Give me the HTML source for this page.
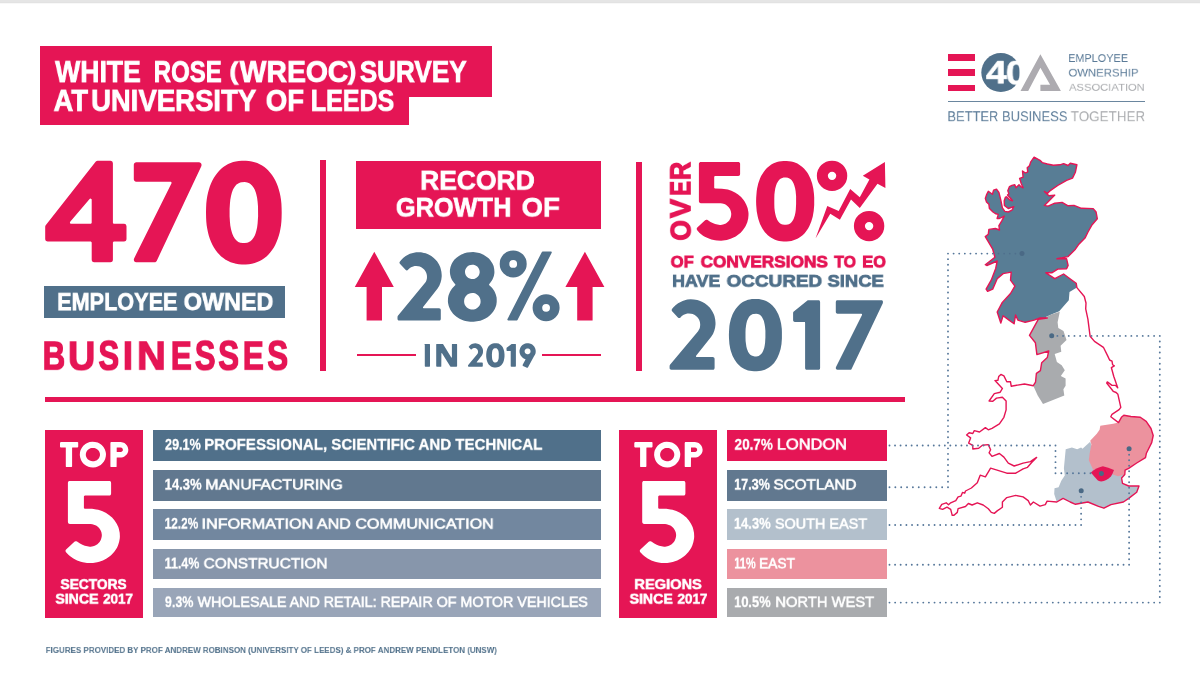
<!DOCTYPE html>
<html><head><meta charset="utf-8"><title>White Rose Survey</title>
<style>
html,body{margin:0;padding:0;background:#fff}
body{width:1200px;height:677px;position:relative;overflow:hidden;font-family:"Liberation Sans",sans-serif}
.r{position:absolute}
.t{position:absolute;left:0;top:0;will-change:transform;white-space:nowrap;line-height:1;transform-origin:0 0;font-family:"Liberation Sans",sans-serif;font-weight:700}
.t b{font-weight:700}
.t span{font-weight:400}
</style></head><body>
<svg width="1200" height="677" viewBox="0 0 1200 677" style="position:absolute;left:0;top:0">
<polygon points="374.3,251.7 393.8,287 382.0,287 382.0,320.5 366.6,320.5 366.6,287 354.8,287" fill="#e51555"/>
<polygon points="584.9,251.7 604.4,287 592.6,287 592.6,320.5 577.2,320.5 577.2,287 565.4,287" fill="#e51555"/>
<circle cx="832.05" cy="175.85" r="9.7" fill="none" stroke="#e51555" stroke-width="11"/>
<circle cx="869.10" cy="226.10" r="9.7" fill="none" stroke="#e51555" stroke-width="11"/>
<polygon fill="#e51555" points="815.5,238.6 827.3,206.1 838.7,210.9 850.2,189.1 859.8,197.3 869.4,179.5 862.8,175.8 884.9,162.1 885.4,188.1 877.5,183.7 859.8,207.9 851.0,199.5 839.9,219.7 830.3,213.8"/>
<circle cx="513.20" cy="263.90" r="8.7" fill="none" stroke="#50708a" stroke-width="9.6"/>
<circle cx="546.10" cy="307.80" r="8.7" fill="none" stroke="#50708a" stroke-width="9.6"/>
<polygon fill="#50708a" stroke="#50708a" stroke-width="1.6" stroke-linejoin="round" points="542.6,252.3 551.0,252.3 516.8,319.6 508.1,319.6"/>
<circle cx="1000.8" cy="72.6" r="19.5" fill="#50708a"/>
<polygon fill="#587d95" points="1034.1,157.1 1040.0,160.3 1042.2,162.6 1047.4,164.0 1053.3,165.2 1059.9,164.8 1063.6,163.6 1068.1,165.5 1070.3,163.3 1076.9,164.8 1075.4,172.2 1072.5,178.1 1066.6,180.3 1057.7,185.5 1050.3,190.6 1047.4,193.6 1044.4,191.4 1048.9,195.8 1054.8,195.1 1048.9,201.0 1044.4,205.4 1048.1,206.1 1054.8,203.2 1062.1,202.4 1068.1,205.8 1074.0,205.4 1081.4,208.3 1093.2,208.6 1096.1,212.0 1097.3,218.7 1091.7,225.3 1088.0,232.0 1085.0,238.1 1078.4,244.8 1075.4,249.2 1068.1,256.6 1057.0,258.8 1066.6,258.8 1068.1,265.4 1066.6,268.7 1057.7,269.1 1051.8,272.8 1045.9,272.8 1054.8,278.7 1063.6,274.0 1071.0,279.5 1076.2,283.2 1076.9,287.6 1069.5,292.0 1068.8,300.2 1059.2,311.2 1051.8,314.2 1045.9,317.1 1047.3,318.0 1040,317.9 1034.1,320.1 1025.2,322.3 1017.8,320.1 1015.6,314.9 1014.1,323.8 1009,320.1 1003.1,315.7 1000.8,323.1 997.2,312.0 1002.3,302.4 1010.5,293.5 1014.9,286.1 1010.5,280.2 1011.2,272.1 1003.1,273.6 997.2,278.7 992.7,289.1 987.6,291.3 986.1,289.1 991.2,280.2 995.7,268.4 997.2,261.0 986.8,265.5 985.3,264.7 994.9,257.3 992.7,249.2 985.3,236.6 988.3,234.2 988.9,229.4 995.4,228.5 999.5,230 998.9,225.6 1001.8,220.9 1004.2,216.1 999.5,218.5 997.1,218.5 998.3,214.4 995.9,213.8 993.0,212.0 989.4,208.5 988.9,204.3 986.5,202.0 985.3,198.4 986.5,194.9 988.3,191.3 992.4,194.3 993.6,190.2 996.5,189.2 998.9,192.5 1000.7,199.6 1002.4,207.9 1004.8,211.4 1008.3,212.0 1011.9,210.2 1013.7,206.7 1008.3,208.5 1004.4,205.5 1004.2,200.8 1005.4,197.2 1006.5,196.8 1009.5,199.8 1012.5,200.8 1010.5,198.2 1007.5,195 1008.9,193.7 1007.8,190.7 1009.5,186.6 1011.9,185.4 1014.8,184.8 1016.0,187.8 1019.0,184.8 1020.7,186.6 1023.1,187.8 1021.3,183.7 1019.6,178.3 1023.1,177.2 1022.5,171.0 1025.5,173 1027.8,171.8 1027.2,167.7 1029.4,165.9 1030.8,161.8"/>
<polygon fill="#a9abae" points="1059.8,311.8 1057.6,322.2 1058.3,328.1 1063.5,331.0 1066.5,339.9 1060.6,345.8 1061.3,351.7 1054.7,353.9 1056.9,362.0 1061.7,365.3 1064.8,370.2 1060.8,376.0 1065.6,378.6 1065.6,385.7 1063.4,389.2 1064.3,395.5 1043.0,403.9 1037.7,395.5 1033.3,385.7 1035.5,382.2 1036.4,373.3 1040.4,370.6 1041.7,362.7 1047.3,357.6 1048.7,351.0 1036.9,354.6 1035.4,342.8 1029.5,335.4 1038.4,319.2 1047.3,318.0 1045.9,317.1 1051.8,314.2"/>
<polygon fill="#b3c0cc" points="1054.2,494.0 1054.5,488.2 1058.6,487.3 1061.3,480.7 1064.8,475.4 1063.9,468.3 1065.7,449.3 1071.9,447.5 1077.2,449.3 1081.1,447.5 1082.5,448.8 1090.2,441.7 1095,455 1110,465 1124.8,474.5 1121.6,478.0 1122.5,483.4 1128.7,486.0 1139.0,486.0 1136.7,492.2 1128.7,498.4 1123.4,502.0 1110.9,504.6 1103.9,508.2 1098.5,506.4 1087.9,502.0 1075.5,504.3 1070.2,502.0 1063.1,498.4 1056.8,502.0"/>
<polygon fill="#ec929e" points="1121.4,417.3 1123.8,415.3 1130.9,416.5 1140.3,417.3 1146.2,421.4 1151.0,428.5 1153.2,435.5 1151.7,442.6 1146.4,453.2 1145.5,457.6 1136.7,463.0 1128.7,468.3 1125.1,470.1 1124.8,474.5 1118.0,476.3 1112.7,474.5 1113.6,470.1 1107.4,469.2 1102.1,467.0 1093.2,470.1 1088.8,460.3 1089.7,453.2 1091.4,444.3 1090.2,440.8 1096.8,433.7 1099.6,429.7 1100.3,425.7 1113.2,423.8 1118.5,422.6"/>
<path fill="#e51555" d="M1090.9,472.6 Q1096,467.5 1102.9,466.2 Q1108,467.5 1114,470 Q1112.5,474.5 1110.9,476.6 Q1106.5,481 1101.1,481.6 Q1098.5,481 1097.6,480.2 Q1094,476.5 1090.9,472.6 Z"/>
<polygon fill="none" stroke="#e51555" stroke-width="1.4" stroke-linejoin="round" points="1034.1,157.1 1040.0,160.3 1042.2,162.6 1047.4,164.0 1053.3,165.2 1059.9,164.8 1063.6,163.6 1068.1,165.5 1070.3,163.3 1076.9,164.8 1075.4,172.2 1072.5,178.1 1066.6,180.3 1057.7,185.5 1050.3,190.6 1047.4,193.6 1044.4,191.4 1048.9,195.8 1054.8,195.1 1048.9,201.0 1044.4,205.4 1048.1,206.1 1054.8,203.2 1062.1,202.4 1068.1,205.8 1074.0,205.4 1081.4,208.3 1093.2,208.6 1096.1,212.0 1097.3,218.7 1091.7,225.3 1088.0,232.0 1085.0,238.1 1078.4,244.8 1075.4,249.2 1068.1,256.6 1057.0,258.8 1066.6,258.8 1068.1,265.4 1066.6,268.7 1057.7,269.1 1051.8,272.8 1045.9,272.8 1054.8,278.7 1063.6,274.0 1071.0,279.5 1076.2,283.2 1076.9,287.6 1084.3,296.5 1086.0,303 1085.7,308.9 1087.9,319.2 1090.1,336.2 1094.5,341.4 1103.4,347.3 1107.8,356.1 1109.6,360 1112,361.2 1112.6,364.7 1114.3,365.9 1111.4,367.7 1113.8,376.5 1117.7,387.8 1115.5,385.4 1112.0,385.4 1107.3,381.9 1106.7,383.0 1113.2,391.3 1116.1,392.5 1117.9,394.3 1120.8,407.3 1119.1,409.6 1112.0,414.3 1110.8,416.7 1118.5,422.6 1121.4,417.3 1123.8,415.3 1130.9,416.5 1140.3,417.3 1146.2,421.4 1151.0,428.5 1153.2,435.5 1151.7,442.6 1146.4,453.2 1145.5,457.6 1136.7,463.0 1128.7,468.3 1125.1,470.1 1124.8,474.5 1121.6,478.0 1122.5,483.4 1128.7,486.0 1139.0,486.0 1136.7,492.2 1128.7,498.4 1123.4,502.0 1110.9,504.6 1103.9,508.2 1098.5,506.4 1087.9,502.0 1075.5,504.3 1070.2,502.0 1063.1,498.4 1056.8,502.0 1047.1,501.1 1045.3,504.6 1040,506.1 1033.4,502.0 1030.4,505.0 1028.2,500.6 1023.1,496.9 1015.7,495.4 1006.8,497.6 1002.4,502.0 1002.4,507.2 997.2,510.9 994.3,513.4 991.3,512.4 988.3,508.7 983.2,505.0 977.3,502.8 972.1,505.0 968.4,503.5 965.5,506.5 958.1,508.7 957.3,512.4 954,515.3 952.2,515.3 950.7,509.4 947.0,507.2 942.6,509.4 939.3,508.4 941.8,504.3 946.2,502.8 948.5,504.7 950.7,502.8 955.8,500.6 958.1,496.9 961.0,496.1 962.5,492.4 964.7,493.2 965.5,491.0 971.4,488.0 977.3,482.8 980.2,475.2 985.4,476.9 990.6,468.1 997.9,470.3 1006.8,473.2 1015.7,473.2 1023.1,468.8 1027.5,467.3 1031.9,462.2 1036.6,457.4 1030.4,461.6 1023.1,463.1 1014.2,466.0 1008.3,463.1 1003.9,457.1 999.4,453.5 992.0,456.4 989.1,452.7 990.6,449.8 988.3,444.6 982.4,445.3 978.7,448.3 972.8,449.0 972.8,445.3 968.7,443.1 970.6,437.9 966.6,435.0 969.1,432.8 972.8,433.5 974.3,430.6 979.5,432.0 985.4,427.6 988.3,429.8 992.0,428.3 999.4,423.9 1003.9,417.3 1006.1,409.9 1006.1,401.0 1002.4,397.3 996.5,398.1 992.8,401.3 989.1,401.0 994.3,393.6 1000.2,392.2 1002.4,388.5 995.0,380.6 997.9,380.3 998.7,376.6 1000.9,374.4 1003.9,375.9 1006.8,381.8 1010.5,381.8 1011.2,386.2 1024.5,384.0 1033.3,385.7 1035.5,382.2 1036.4,373.3 1040.4,370.6 1041.7,362.7 1047.3,357.6 1048.7,351.0 1036.9,354.6 1035.4,342.8 1029.5,335.4 1038.4,319.2 1047.3,318.0 1040,317.9 1034.1,320.1 1025.2,322.3 1017.8,320.1 1015.6,314.9 1014.1,323.8 1009,320.1 1003.1,315.7 1000.8,323.1 997.2,312.0 1002.3,302.4 1010.5,293.5 1014.9,286.1 1010.5,280.2 1011.2,272.1 1003.1,273.6 997.2,278.7 992.7,289.1 987.6,291.3 986.1,289.1 991.2,280.2 995.7,268.4 997.2,261.0 986.8,265.5 985.3,264.7 994.9,257.3 992.7,249.2 985.3,236.6 988.3,234.2 988.9,229.4 995.4,228.5 999.5,230 998.9,225.6 1001.8,220.9 1004.2,216.1 999.5,218.5 997.1,218.5 998.3,214.4 995.9,213.8 993.0,212.0 989.4,208.5 988.9,204.3 986.5,202.0 985.3,198.4 986.5,194.9 988.3,191.3 992.4,194.3 993.6,190.2 996.5,189.2 998.9,192.5 1000.7,199.6 1002.4,207.9 1004.8,211.4 1008.3,212.0 1011.9,210.2 1013.7,206.7 1008.3,208.5 1004.4,205.5 1004.2,200.8 1005.4,197.2 1006.5,196.8 1009.5,199.8 1012.5,200.8 1010.5,198.2 1007.5,195 1008.9,193.7 1007.8,190.7 1009.5,186.6 1011.9,185.4 1014.8,184.8 1016.0,187.8 1019.0,184.8 1020.7,186.6 1023.1,187.8 1021.3,183.7 1019.6,178.3 1023.1,177.2 1022.5,171.0 1025.5,173 1027.8,171.8 1027.2,167.7 1029.4,165.9 1030.8,161.8"/>
<path fill="none" stroke="#56779a" stroke-width="1.9" stroke-linecap="round" stroke-dasharray="0 5.5333" d="M889.50,445.45 L1055.55,445.45"/>
<path fill="none" stroke="#56779a" stroke-width="1.9" stroke-linecap="round" stroke-dasharray="0 5.5700" d="M1055.50,451.02 L1055.50,473.35"/>
<path fill="none" stroke="#56779a" stroke-width="1.9" stroke-linecap="round" stroke-dasharray="0 5.8333" d="M1061.33,473.30 L1090.55,473.30"/>
<path fill="none" stroke="#56779a" stroke-width="1.9" stroke-linecap="round" stroke-dasharray="0 5.8500" d="M889.50,487.30 L948.05,487.30"/>
<path fill="none" stroke="#56779a" stroke-width="1.9" stroke-linecap="round" stroke-dasharray="0 5.5643" d="M948.00,481.74 L948.00,253.55"/>
<path fill="none" stroke="#56779a" stroke-width="1.9" stroke-linecap="round" stroke-dasharray="0 5.6125" d="M953.61,253.60 L992.95,253.60"/>
<path fill="none" stroke="#4f6f8c" stroke-width="1.7" stroke-linecap="round" stroke-dasharray="0 5.6200" d="M998.52,253.60 L1021.05,253.60"/>
<path fill="none" stroke="#56779a" stroke-width="1.9" stroke-linecap="round" stroke-dasharray="0 5.6353" d="M889.50,525.00 L1081.15,525.00"/>
<path fill="none" stroke="#56779a" stroke-width="1.9" stroke-linecap="round" stroke-dasharray="0 5.6333" d="M1081.10,519.37 L1081.10,491.15"/>
<path fill="none" stroke="#56779a" stroke-width="1.9" stroke-linecap="round" stroke-dasharray="0 5.5721" d="M889.50,564.70 L1129.15,564.70"/>
<path fill="none" stroke="#56779a" stroke-width="1.9" stroke-linecap="round" stroke-dasharray="0 5.5000" d="M1129.10,559.20 L1129.10,449.15"/>
<path fill="none" stroke="#56779a" stroke-width="1.9" stroke-linecap="round" stroke-dasharray="0 5.6312" d="M889.50,602.60 L1159.85,602.60"/>
<path fill="none" stroke="#56779a" stroke-width="1.9" stroke-linecap="round" stroke-dasharray="0 5.5563" d="M1159.80,597.04 L1159.80,335.85"/>
<path fill="none" stroke="#56779a" stroke-width="1.9" stroke-linecap="round" stroke-dasharray="0 5.6895" d="M1154.11,335.90 L1051.65,335.90"/>
<circle cx="1022.0" cy="253.6" r="2.5" fill="#4a6985"/>
<circle cx="1051.7" cy="335.8" r="2.5" fill="#4a6985"/>
<circle cx="1129.1" cy="448.8" r="2.5" fill="#4a6985"/>
<circle cx="1101.4" cy="473.5" r="2.5" fill="#4a6985"/>
<circle cx="1081.2" cy="490.8" r="2.5" fill="#4a6985"/>
</svg>
<div class="r" style="left:0.00px;top:0.00px;width:1200.00px;height:3.00px;background:#e5e5e5"></div>
<div class="r" style="left:0.00px;top:2.00px;width:1200.00px;height:1.00px;background:#e2e2e2"></div>
<div class="r" style="left:0.00px;top:3.00px;width:1200.00px;height:1.00px;background:#f8f8f8"></div>
<div class="r" style="left:40.00px;top:46.00px;width:452.00px;height:50.50px;background:#e51555"></div>
<div class="r" style="left:40.00px;top:96.00px;width:369.00px;height:28.50px;background:#e51555"></div>
<div class="r" style="left:44.00px;top:286.00px;width:241.00px;height:32.00px;background:#50708a"></div>
<div class="r" style="left:320.00px;top:160.00px;width:6.00px;height:211.00px;background:#e51555"></div>
<div class="r" style="left:636.00px;top:162.00px;width:6.00px;height:209.00px;background:#e51555"></div>
<div class="r" style="left:45.00px;top:397.00px;width:860.00px;height:5.00px;background:#e51555"></div>
<div class="r" style="left:356.00px;top:161.00px;width:245.00px;height:68.00px;background:#e51555"></div>
<div class="r" style="left:356.90px;top:353.50px;width:59.10px;height:2.00px;background:#e51555"></div>
<div class="r" style="left:542.00px;top:353.50px;width:59.00px;height:2.00px;background:#e51555"></div>
<div class="r" style="left:45.00px;top:430.00px;width:98.00px;height:187.50px;background:#e51555"></div>
<div class="r" style="left:619.30px;top:430.00px;width:98.00px;height:187.50px;background:#e51555"></div>
<div class="r" style="left:153.00px;top:430.20px;width:448.00px;height:30.50px;background:#50708a"></div>
<div class="r" style="left:153.00px;top:470.00px;width:448.00px;height:30.60px;background:#61788f"></div>
<div class="r" style="left:153.00px;top:509.20px;width:448.00px;height:30.40px;background:#72879f"></div>
<div class="r" style="left:153.00px;top:549.10px;width:448.00px;height:30.20px;background:#8796ab"></div>
<div class="r" style="left:153.00px;top:588.20px;width:448.00px;height:29.30px;background:#99a5b8"></div>
<div class="r" style="left:726.80px;top:430.20px;width:160.40px;height:30.50px;background:#e51555"></div>
<div class="r" style="left:726.80px;top:470.00px;width:160.40px;height:30.60px;background:#61788f"></div>
<div class="r" style="left:726.80px;top:509.20px;width:160.40px;height:30.40px;background:#b3c0cc"></div>
<div class="r" style="left:726.80px;top:549.10px;width:160.40px;height:30.20px;background:#ec929e"></div>
<div class="r" style="left:726.80px;top:588.20px;width:160.40px;height:29.30px;background:#a9abae"></div>
<div class="r" style="left:948.00px;top:54.00px;width:27.00px;height:6.50px;background:#e51555"></div>
<div class="r" style="left:948.00px;top:69.20px;width:27.00px;height:6.50px;background:#e51555"></div>
<div class="r" style="left:948.00px;top:84.80px;width:27.00px;height:6.50px;background:#e51555"></div>
<div class="r" style="left:948.00px;top:100.80px;width:196.50px;height:1.10px;background:#6a869f"></div>
<div class="t" style="font-size:38.36px;color:#fff;transform:translate(55.23px,57.35px) scale(0.6921,0.7692);-webkit-text-stroke:1.04px #fff;"><b>WHITE</b></div>
<div class="t" style="font-size:38.36px;color:#fff;transform:translate(153.62px,57.35px) scale(0.6269,0.7692);-webkit-text-stroke:1.04px #fff;"><b>ROSE</b></div>
<div class="t" style="font-size:31.70px;color:#fff;transform:translate(229.49px,59.11px) scale(0.8359,0.7692);-webkit-text-stroke:1.04px #fff;"><b>(</b></div>
<div class="t" style="font-size:38.36px;color:#fff;transform:translate(239.65px,57.35px) scale(0.7395,0.7692);-webkit-text-stroke:1.04px #fff;"><b>WREOC</b></div>
<div class="t" style="font-size:31.70px;color:#fff;transform:translate(347.78px,59.11px) scale(0.8027,0.7692);-webkit-text-stroke:1.04px #fff;"><b>)</b></div>
<div class="t" style="font-size:38.36px;color:#fff;transform:translate(359.79px,57.35px) scale(0.6801,0.7692);-webkit-text-stroke:1.04px #fff;"><b>SURVEY</b></div>
<div class="t" style="font-size:38.17px;color:#fff;transform:translate(53.57px,86.17px) scale(0.7139,0.7692);-webkit-text-stroke:1.04px #fff;"><b>AT</b></div>
<div class="t" style="font-size:38.17px;color:#fff;transform:translate(91.02px,86.17px) scale(0.7217,0.7692);-webkit-text-stroke:1.04px #fff;"><b>UNIVERSITY</b></div>
<div class="t" style="font-size:38.17px;color:#fff;transform:translate(265.81px,86.17px) scale(0.7211,0.7692);-webkit-text-stroke:1.04px #fff;"><b>OF</b></div>
<div class="t" style="font-size:38.17px;color:#fff;transform:translate(310.87px,86.17px) scale(0.6553,0.7692);-webkit-text-stroke:1.04px #fff;"><b>LEEDS</b></div>
<div class="t" style="font-size:31.37px;color:#fff;transform:translate(57.11px,290.10px) scale(0.6908,0.7692);-webkit-text-stroke:0.91px #fff;"><b>EMPLOYEE</b></div>
<div class="t" style="font-size:31.37px;color:#fff;transform:translate(183.69px,290.10px) scale(0.7463,0.7692);-webkit-text-stroke:0.91px #fff;"><b>OWNED</b></div>
<div class="t" style="font-size:52.00px;color:#e51555;transform:translate(42.57px,335.59px) scale(0.6038,0.7692);-webkit-text-stroke:1.69px #e51555;"><b>B</b></div>
<div class="t" style="font-size:52.37px;color:#e51555;transform:translate(68.10px,335.75px) scale(0.7203,0.7692);-webkit-text-stroke:1.69px #e51555;"><b>U</b></div>
<div class="t" style="font-size:52.73px;color:#e51555;transform:translate(98.48px,335.75px) scale(0.5866,0.7692);-webkit-text-stroke:1.69px #e51555;"><b>S</b></div>
<div class="t" style="font-size:52.00px;color:#e51555;transform:translate(122.83px,335.59px) scale(0.7053,0.7692);-webkit-text-stroke:1.69px #e51555;"><b>I</b></div>
<div class="t" style="font-size:52.00px;color:#e51555;transform:translate(137.07px,335.59px) scale(0.7622,0.7692);-webkit-text-stroke:1.69px #e51555;"><b>N</b></div>
<div class="t" style="font-size:52.00px;color:#e51555;transform:translate(170.72px,335.59px) scale(0.6064,0.7692);-webkit-text-stroke:1.69px #e51555;"><b>E</b></div>
<div class="t" style="font-size:52.73px;color:#e51555;transform:translate(194.83px,335.75px) scale(0.5853,0.7692);-webkit-text-stroke:1.69px #e51555;"><b>S</b></div>
<div class="t" style="font-size:52.73px;color:#e51555;transform:translate(218.16px,335.75px) scale(0.5934,0.7692);-webkit-text-stroke:1.69px #e51555;"><b>S</b></div>
<div class="t" style="font-size:52.00px;color:#e51555;transform:translate(242.72px,335.59px) scale(0.6064,0.7692);-webkit-text-stroke:1.69px #e51555;"><b>E</b></div>
<div class="t" style="font-size:52.73px;color:#e51555;transform:translate(267.19px,335.75px) scale(0.5950,0.7692);-webkit-text-stroke:1.69px #e51555;"><b>S</b></div>
<div class="t" style="font-size:34.20px;color:#fff;transform:translate(420.03px,167.21px) scale(0.7743,0.7692);-webkit-text-stroke:0.78px #fff;"><b>RECORD</b></div>
<div class="t" style="font-size:34.96px;color:#fff;transform:translate(395.86px,194.15px) scale(0.7254,0.7692);-webkit-text-stroke:0.78px #fff;"><b>GROWTH</b></div>
<div class="t" style="font-size:34.96px;color:#fff;transform:translate(521.64px,194.15px) scale(0.7865,0.7692);-webkit-text-stroke:0.78px #fff;"><b>OF</b></div>
<div class="t" style="font-size:21.54px;color:#e51555;transform:translate(670.63px,254.33px) scale(0.7725,0.7692);-webkit-text-stroke:1.04px #e51555;"><b>OF</b></div>
<div class="t" style="font-size:21.54px;color:#e51555;transform:translate(700.61px,254.33px) scale(0.7995,0.7692);-webkit-text-stroke:1.04px #e51555;"><b>CONVERSIONS</b></div>
<div class="t" style="font-size:21.54px;color:#e51555;transform:translate(834.21px,254.33px) scale(0.7347,0.7692);-webkit-text-stroke:1.04px #e51555;"><b>TO</b></div>
<div class="t" style="font-size:21.54px;color:#e51555;transform:translate(862.23px,254.33px) scale(0.7658,0.7692);-webkit-text-stroke:1.04px #e51555;"><b>EO</b></div>
<div class="t" style="font-size:22.30px;color:#50708a;transform:translate(672.18px,272.80px) scale(0.7965,0.7692);-webkit-text-stroke:1.04px #50708a;"><b>HAVE</b></div>
<div class="t" style="font-size:22.30px;color:#50708a;transform:translate(726.55px,272.80px) scale(0.8479,0.7692);-webkit-text-stroke:1.04px #50708a;"><b>OCCURED</b></div>
<div class="t" style="font-size:22.30px;color:#50708a;transform:translate(827.53px,272.80px) scale(0.8257,0.7692);-webkit-text-stroke:1.04px #50708a;"><b>SINCE</b></div>
<div class="t" style="font-size:18.23px;color:#fff;transform:translate(60.44px,577.61px) scale(0.7550,0.7692);-webkit-text-stroke:0.72px #fff;"><b>SECTORS</b></div>
<div class="t" style="font-size:18.61px;color:#fff;transform:translate(55.40px,592.14px) scale(0.7566,0.7692);-webkit-text-stroke:0.72px #fff;"><b>SINCE</b></div>
<div class="t" style="font-size:18.61px;color:#fff;transform:translate(103.20px,592.14px) scale(0.7190,0.7692);-webkit-text-stroke:0.72px #fff;"><b>2017</b></div>
<div class="t" style="font-size:18.23px;color:#fff;transform:translate(634.30px,577.61px) scale(0.8041,0.7692);-webkit-text-stroke:0.72px #fff;"><b>REGIONS</b></div>
<div class="t" style="font-size:18.61px;color:#fff;transform:translate(629.58px,592.14px) scale(0.7602,0.7692);-webkit-text-stroke:0.72px #fff;"><b>SINCE</b></div>
<div class="t" style="font-size:18.61px;color:#fff;transform:translate(677.47px,592.14px) scale(0.7224,0.7692);-webkit-text-stroke:0.72px #fff;"><b>2017</b></div>
<div class="t" style="font-size:20.03px;color:#fff;transform:translate(164.98px,436.58px) scale(0.6310,0.7692);-webkit-text-stroke:0.39px #fff;"><b>29.1%</b></div>
<div class="t" style="font-size:20.03px;color:#fff;transform:translate(204.11px,436.58px) scale(0.7521,0.7692);-webkit-text-stroke:0.39px #fff;"><b>PROFESSIONAL, SCIENTIFIC AND TECHNICAL</b></div>
<div class="t" style="font-size:19.65px;color:#fff;transform:translate(164.60px,477.27px) scale(0.6658,0.7692);-webkit-text-stroke:0.39px #fff;"><b>14.3%</b></div>
<div class="t" style="font-size:19.08px;color:#fff;transform:translate(205.27px,477.09px) scale(0.8268,0.7692);-webkit-text-stroke:0.78px #fff;"><span>MANUFACTURING</span></div>
<div class="t" style="font-size:19.46px;color:#fff;transform:translate(164.65px,516.31px) scale(0.6101,0.7692);-webkit-text-stroke:0.39px #fff;"><b>12.2%</b></div>
<div class="t" style="font-size:18.90px;color:#fff;transform:translate(201.58px,517.04px) scale(0.8531,0.7692);-webkit-text-stroke:0.78px #fff;"><span>INFORMATION AND COMMUNICATION</span></div>
<div class="t" style="font-size:19.84px;color:#fff;transform:translate(164.62px,556.13px) scale(0.6295,0.7692);-webkit-text-stroke:0.39px #fff;"><b>11.4%</b></div>
<div class="t" style="font-size:19.27px;color:#fff;transform:translate(203.56px,555.96px) scale(0.7990,0.7692);-webkit-text-stroke:0.78px #fff;"><span>CONSTRUCTION</span></div>
<div class="t" style="font-size:19.65px;color:#fff;transform:translate(164.91px,594.84px) scale(0.6347,0.7692);-webkit-text-stroke:0.39px #fff;"><b>9.3%</b></div>
<div class="t" style="font-size:19.08px;color:#fff;transform:translate(197.56px,594.47px) scale(0.7484,0.7692);-webkit-text-stroke:0.78px #fff;"><span>WHOLESALE AND RETAIL: REPAIR OF MOTOR VEHICLES</span></div>
<div class="t" style="font-size:20.03px;color:#fff;transform:translate(734.57px,436.58px) scale(0.6738,0.7692);-webkit-text-stroke:0.39px #fff;"><b>20.7%</b></div>
<div class="t" style="font-size:19.46px;color:#fff;transform:translate(776.84px,437.10px) scale(0.8440,0.7692);-webkit-text-stroke:0.78px #fff;"><span>LONDON</span></div>
<div class="t" style="font-size:19.65px;color:#fff;transform:translate(734.04px,477.27px) scale(0.6447,0.7692);-webkit-text-stroke:0.39px #fff;"><b>17.3%</b></div>
<div class="t" style="font-size:19.08px;color:#fff;transform:translate(773.41px,477.09px) scale(0.8003,0.7692);-webkit-text-stroke:0.78px #fff;"><span>SCOTLAND</span></div>
<div class="t" style="font-size:19.46px;color:#fff;transform:translate(733.86px,516.31px) scale(0.6692,0.7692);-webkit-text-stroke:0.39px #fff;"><b>14.3%</b></div>
<div class="t" style="font-size:18.90px;color:#fff;transform:translate(774.88px,517.05px) scale(0.7643,0.7692);-webkit-text-stroke:0.78px #fff;"><span>SOUTH EAST</span></div>
<div class="t" style="font-size:19.84px;color:#fff;transform:translate(734.13px,556.13px) scale(0.5599,0.7692);-webkit-text-stroke:0.39px #fff;"><b>11%</b></div>
<div class="t" style="font-size:19.27px;color:#fff;transform:translate(759.05px,555.96px) scale(0.7129,0.7692);-webkit-text-stroke:0.78px #fff;"><span>EAST</span></div>
<div class="t" style="font-size:19.65px;color:#fff;transform:translate(733.99px,594.83px) scale(0.6595,0.7692);-webkit-text-stroke:0.39px #fff;"><b>10.5%</b></div>
<div class="t" style="font-size:19.08px;color:#fff;transform:translate(775.36px,594.47px) scale(0.7724,0.7692);-webkit-text-stroke:0.78px #fff;"><span>NORTH WEST</span></div>
<div class="t" style="font-size:10.39px;color:#50708a;transform:translate(45.73px,646.84px) scale(0.7700,0.7692);"><b>FIGURES PROVIDED BY PROF ANDREW ROBINSON (UNIVERSITY OF LEEDS) &amp; PROF ANDREW PENDLETON (UNSW)</b></div>
<div class="t" style="font-size:14.36px;color:#5b7b98;transform:translate(1068.13px,52.65px) scale(0.7585,0.7692);"><span>EMPLOYEE</span></div>
<div class="t" style="font-size:14.17px;color:#5b7b98;transform:translate(1068.49px,67.25px) scale(0.8021,0.7692);"><span>OWNERSHIP</span></div>
<div class="t" style="font-size:13.60px;color:#a9abae;transform:translate(1069.00px,82.25px) scale(0.8247,0.7692);"><span>ASSOCIATION</span></div>
<div class="t" style="font-size:17.95px;color:#5b7b98;transform:translate(947.36px,110.47px) scale(0.7213,0.7692);"><span>BETTER BUSINESS</span></div>
<div class="t" style="font-size:17.95px;color:#a9abae;transform:translate(1070.73px,110.47px) scale(0.7489,0.7692);"><span>TOGETHER</span></div>
<svg width="1200" height="677" viewBox="0 0 1200 677" style="position:absolute;left:0;top:0">
<path fill="#e51555" fill-rule="evenodd" d="M90.5,241.5 90.9,241.6 91.3,241.9 91.6,242.3 91.7,242.7 91.7,259.8 91.9,260.7 92.3,261.5 93.1,262.0 94.2,262.3 110.4,262.3 111.3,262.1 112.1,261.7 112.6,260.9 112.9,259.9 112.9,242.7 113.0,242.3 113.3,241.9 113.7,241.6 114.1,241.5 124.1,241.5 124.9,241.3 125.7,240.9 126.3,239.9 126.5,239.0 126.5,226.3 126.3,225.4 125.9,224.6 125.1,224.1 124.0,223.8 114.1,223.8 113.7,223.7 113.3,223.4 113.0,223.0 112.9,222.6 112.9,163.3 112.7,162.4 112.3,161.6 111.3,161.0 110.4,160.8 97.6,160.8 96.6,161.0 95.6,161.7 45.7,225.3 45.3,226.1 45.2,226.9 45.2,239.1 45.4,239.9 45.8,240.7 46.8,241.3 47.7,241.5Z M71.1,223.8 70.7,223.7 70.3,223.5 70.0,223.1 69.9,222.6 70.0,222.2 70.2,221.8 89.6,199.0 89.9,198.7 90.4,198.6 90.9,198.7 91.3,198.9 91.6,199.3 91.7,199.8 91.7,222.6 91.6,223.0 91.3,223.4 90.9,223.7 90.5,223.8Z"/>
<path fill="#e51555" fill-rule="evenodd" d="M136.3,162.3 135.4,162.5 134.6,162.9 134.0,163.7 133.8,164.8 133.8,179.2 134.0,180.3 134.6,181.1 135.2,181.5 136.3,181.7 170.4,181.7 170.8,181.8 171.2,182.1 171.5,182.5 171.6,183.0 171.4,183.4 134.1,258.4 133.8,259.5 134.0,260.7 134.4,261.5 135.2,262.1 136.1,262.3 154.5,262.3 155.3,262.2 156.0,261.7 156.7,260.9 201.2,166.5 201.5,165.5 201.5,164.6 201.3,163.7 200.7,162.9 199.9,162.5 199.0,162.3Z"/>
<path fill="#e51555" fill-rule="evenodd" d="M281.6,207.8 281.4,203.6 281.0,199.7 280.4,196.0 279.7,192.7 278.8,189.4 277.8,186.2 276.6,183.2 275.2,180.3 273.8,177.7 272.0,175.0 270.4,172.9 268.5,170.7 266.5,168.8 264.4,167.1 262.1,165.5 259.7,164.2 257.3,163.1 254.7,162.2 251.7,161.5 248.8,161.0 245.8,160.8 241.8,160.8 238.7,161.0 235.7,161.5 233.2,162.1 230.6,163.0 228.1,164.1 225.7,165.4 223.3,167.1 221.2,168.8 219.2,170.7 217.3,172.9 215.6,175.2 213.9,177.7 212.5,180.2 211.1,183.2 209.9,186.2 208.9,189.4 208.0,192.7 207.3,196.0 206.7,199.7 206.3,203.6 206.1,207.7 206.0,212.6 206.1,217.5 206.3,221.6 206.7,225.5 207.3,229.0 208.0,232.5 208.9,236.0 209.9,239.0 211.1,242.0 212.5,244.9 213.9,247.5 215.7,250.2 217.4,252.5 219.3,254.6 221.2,256.4 223.3,258.1 225.6,259.7 228.1,261.1 230.6,262.2 233.3,263.1 236.0,263.7 238.7,264.2 241.8,264.4 245.7,264.4 249.0,264.2 251.9,263.7 254.7,263.0 257.3,262.1 259.7,261.0 262.0,259.8 264.2,258.3 266.5,256.4 268.5,254.5 270.4,252.3 272.1,250.0 273.7,247.7 275.2,245.0 276.5,242.1 277.7,239.1 278.8,235.8 279.7,232.5 280.4,229.0 281.0,225.4 281.4,221.5 281.6,217.4 281.7,212.6Z M258.1,216.2 257.6,223.5 257.1,227.4 256.3,230.9 255.4,233.9 254.8,235.4 253.5,237.8 252.0,239.7 250.4,241.3 248.5,242.3 247.2,242.7 244.8,243.1 242.8,243.1 240.3,242.7 238.3,241.9 236.5,240.6 234.9,238.8 233.5,236.6 232.4,234.0 231.9,232.6 231.0,229.2 230.3,225.5 229.9,221.2 229.6,216.2 229.6,209.0 229.9,203.9 230.3,199.7 231.0,196.0 231.9,192.6 232.9,189.8 233.6,188.5 234.9,186.4 236.5,184.6 238.2,183.4 240.2,182.5 241.6,182.2 244.8,182.1 247.3,182.5 249.3,183.3 250.4,184.0 252.0,185.5 253.5,187.4 254.8,189.8 255.8,192.6 256.3,194.3 257.1,197.8 257.6,201.7 258.0,206.3Z"/>
<path fill="#50708a" fill-rule="evenodd" d="M399.8,261.7 399.5,262.3 399.5,263.0 399.9,263.8 405.5,269.8 406.1,270.3 406.8,270.4 407.5,270.2 409.3,268.5 411.0,267.3 412.5,266.7 414.6,266.1 416.1,266.0 418.3,266.2 419.8,266.6 421.7,267.5 423.6,268.9 424.6,270.0 425.4,271.2 426.1,272.5 426.6,273.9 426.9,275.4 427.0,276.9 426.9,278.4 426.4,280.4 425.7,281.9 424.9,283.1 397.9,315.8 397.5,316.8 397.5,318.9 397.6,319.5 397.9,320.1 398.4,320.4 399.2,320.6 439.1,320.6 439.7,320.5 440.3,320.2 440.6,319.7 440.8,318.9 440.8,310.0 440.6,309.2 440.3,308.7 439.7,308.4 439.1,308.3 423.7,308.3 423.1,308.1 422.9,307.5 423.1,307.0 437.6,288.6 439.3,285.7 440.5,282.8 441.3,279.7 441.7,276.6 441.7,274.9 441.4,271.8 440.7,268.7 440.2,267.1 438.9,264.3 437.2,261.6 435.1,259.2 433.8,258.0 431.3,256.1 428.6,254.5 425.7,253.3 424.0,252.9 421.0,252.3 417.8,252.2 416.1,252.3 413.0,252.9 409.9,253.8 407.1,255.2 405.7,256.1 403.1,258.0 401.0,260.2Z"/>
<path fill="#50708a" fill-rule="evenodd" d="M453.6,282.3 455.4,284.4 455.4,285.1 453.0,287.5 451.9,288.7 450.3,291.2 449.6,292.7 448.6,295.3 448.2,296.9 448.0,298.4 447.9,301.2 448.0,302.8 448.6,305.5 449.1,307.1 450.3,309.7 451.1,311.1 452.9,313.5 454.1,314.7 456.5,316.7 459.1,318.4 460.6,319.2 463.6,320.4 465.3,320.9 468.5,321.5 470.3,321.7 473.6,321.8 475.3,321.6 478.5,321.1 480.3,320.7 483.3,319.6 484.9,318.8 487.6,317.2 490.0,315.2 491.2,314.0 493.1,311.7 494.8,309.0 495.8,306.4 496.3,304.9 496.7,301.9 496.7,299.1 496.6,297.6 495.8,294.6 494.8,292.0 494.0,290.6 492.2,288.1 491.2,286.9 489.3,285.2 489.0,284.6 489.3,283.9 490.3,282.7 491.9,280.5 492.6,279.2 493.6,276.8 494.0,275.4 494.4,272.9 494.4,271.4 494.2,268.9 493.6,266.1 492.6,263.8 491.8,262.4 490.3,260.3 489.3,259.1 488.3,258.1 486.1,256.4 483.5,254.8 480.8,253.6 479.3,253.1 476.4,252.5 474.8,252.2 473.2,252.1 470.3,252.2 467.1,252.6 464.3,253.3 462.8,253.9 461.4,254.5 458.9,255.9 456.5,257.7 454.5,259.6 453.6,260.7 452.7,262.0 451.5,264.2 450.5,266.9 450.0,269.4 449.9,270.8 449.9,272.2 450.2,274.8 450.9,277.5 452.0,279.9 452.7,281.1Z M480.6,301.3 480.5,303.0 480.1,304.2 479.4,305.7 478.3,307.0 477.1,308.1 475.6,308.9 473.9,309.4 472.7,309.6 471.0,309.5 469.4,309.1 467.9,308.3 466.6,307.3 465.8,306.3 464.9,304.9 464.3,303.3 464.1,301.6 464.2,299.9 464.6,298.3 465.4,296.7 466.2,295.8 467.4,294.6 468.9,293.8 470.5,293.2 472.2,293.0 473.9,293.1 475.5,293.6 476.6,294.2 478.0,295.2 479.1,296.5 479.9,298.0 480.4,299.6Z M479.7,271.9 479.6,272.9 479.2,274.4 478.6,275.7 477.7,276.8 476.5,277.8 475.2,278.5 474.2,278.9 472.7,279.1 471.2,279.0 469.8,278.6 468.4,278.0 467.2,277.1 466.3,275.9 465.7,275.0 465.2,273.6 465.0,272.1 465.1,270.6 465.5,269.2 466.2,267.9 467.2,266.8 468.0,266.1 469.3,265.3 470.7,264.9 472.2,264.7 473.7,264.8 475.1,265.2 476.5,265.9 477.3,266.6 478.3,267.7 479.0,269.0 479.5,270.4Z"/>
<path fill="#e51555" fill-rule="evenodd" d="M700.9,161.9 700.2,162.0 699.6,162.4 699.1,163.0 698.9,163.8 698.9,201.2 699.1,202.1 699.6,202.7 700.0,203.0 700.9,203.2 720.7,203.2 722.3,203.4 724.4,204.1 725.9,204.8 727.1,205.7 728.7,207.2 729.6,208.4 730.3,209.8 730.8,211.2 731.2,213.3 731.2,214.8 731.0,216.3 730.6,217.7 730.0,219.1 729.2,220.4 728.2,221.5 727.1,222.5 725.9,223.4 724.5,224.1 723.0,224.6 720.8,225.0 719.9,225.0 717.4,224.6 715.1,224.0 712.7,223.1 710.5,222.0 707.6,220.0 707.0,219.7 706.3,219.7 705.7,219.9 705.1,220.2 697.3,227.5 696.9,228.1 696.7,228.7 696.8,229.6 697.2,230.3 699.6,232.9 702.7,235.4 704.3,236.4 707.6,238.1 711.4,239.5 715.1,240.3 717.0,240.6 721.1,240.7 723.0,240.6 726.8,240.0 730.6,238.8 732.4,238.1 735.7,236.4 739.0,234.1 740.4,232.9 742.8,230.2 745.1,227.1 745.9,225.5 747.3,222.3 748.2,218.6 748.5,215.2 748.5,213.2 748.3,211.4 747.6,208.1 746.2,204.5 744.6,201.4 743.4,199.8 741.1,197.1 739.6,195.7 738.1,194.5 735.0,192.5 731.4,190.8 727.8,189.6 725.9,189.2 721.9,188.7 715.1,188.6 714.5,188.3 714.2,187.7 714.2,176.9 714.5,176.3 715.1,176.0 738.2,176.0 739.0,175.8 739.5,175.5 739.9,174.9 740.1,174.0 740.1,163.8 740.0,163.2 739.5,162.4 738.9,162.0 738.2,161.9Z"/>
<path fill="#e51555" fill-rule="evenodd" d="M814.2,197.5 814.0,194.2 813.3,188.4 812.1,183.2 810.4,178.4 808.2,174.1 806.9,172.0 804.2,168.7 802.6,167.2 801.0,165.9 799.2,164.7 797.4,163.6 795.5,162.8 793.5,162.1 791.2,161.5 789.0,161.2 786.7,161.0 783.6,161.0 781.2,161.2 779.0,161.5 777.0,162.0 775.0,162.7 773.1,163.6 771.3,164.6 769.4,165.9 767.8,167.2 766.2,168.7 764.8,170.4 763.5,172.2 761.1,176.1 760.0,178.4 758.3,183.2 757.1,188.4 756.7,191.2 756.2,197.4 756.1,201.2 756.2,205.0 756.7,211.2 757.7,216.6 758.4,219.3 760.0,224.0 762.2,228.3 763.5,230.3 764.9,232.2 766.4,233.8 767.8,235.2 769.4,236.5 771.2,237.7 773.1,238.8 775.0,239.7 777.1,240.4 779.1,240.9 781.2,241.2 783.6,241.4 786.6,241.4 789.2,241.2 791.4,240.9 793.5,240.3 795.5,239.6 797.4,238.8 799.1,237.8 800.9,236.6 802.6,235.2 804.2,233.7 805.6,232.0 808.1,228.4 809.3,226.3 811.2,221.8 812.7,216.7 813.7,211.1 814.2,204.9Z M796.1,204.0 795.8,209.7 795.4,212.7 794.8,215.4 793.6,218.9 792.6,220.8 791.5,222.3 790.2,223.4 788.8,224.2 787.8,224.6 786.0,224.8 784.4,224.8 782.5,224.6 781.0,223.9 779.6,222.9 778.3,221.5 777.2,219.8 776.0,216.7 775.3,214.1 774.8,211.2 774.4,207.9 774.3,204.0 774.3,198.4 774.4,194.5 774.8,191.2 775.3,188.3 776.0,185.7 776.8,183.5 778.3,180.9 779.5,179.5 780.9,178.5 782.4,177.9 783.5,177.6 786.0,177.6 787.9,177.8 789.4,178.4 790.3,179.0 791.5,180.1 792.7,181.7 793.6,183.5 794.4,185.8 795.1,188.3 795.6,191.1 796.1,196.3Z"/>
<path fill="#50708a" fill-rule="evenodd" d="M672.0,309.1 671.7,309.7 671.7,310.5 672.1,311.3 677.9,317.5 678.6,318.0 679.3,318.1 680.0,317.9 681.8,316.1 683.7,314.8 685.8,314.0 687.3,313.6 688.9,313.5 691.2,313.7 692.7,314.1 694.8,315.1 696.0,316.0 697.2,317.0 698.2,318.2 699.0,319.5 699.6,320.9 700.0,322.4 700.2,324.7 700.0,326.9 699.6,328.4 698.9,329.8 698.1,331.2 670.0,364.8 669.7,365.4 669.6,365.8 669.6,368.1 669.7,368.7 670.0,369.2 670.6,369.6 671.3,369.8 712.8,369.8 713.4,369.7 714.0,369.4 714.4,368.8 714.6,368.1 714.6,358.9 714.4,358.1 714.0,357.6 713.4,357.2 712.8,357.1 696.8,357.1 696.2,356.9 696.0,356.3 696.1,355.7 711.2,336.8 713.0,333.9 714.3,330.8 715.1,327.7 715.5,324.5 715.5,322.7 715.2,319.4 714.5,316.3 713.9,314.6 712.5,311.7 710.8,309.0 709.7,307.6 707.3,305.3 704.7,303.3 701.9,301.7 698.9,300.5 697.2,300.0 693.9,299.4 690.7,299.3 687.4,299.6 685.6,300.0 682.6,300.9 679.6,302.4 678.1,303.3 675.5,305.3 673.2,307.5Z"/>
<path fill="#50708a" fill-rule="evenodd" d="M781.9,331.7 781.8,328.8 781.1,323.5 780.0,318.9 778.4,314.5 776.4,310.7 775.2,308.8 772.7,305.8 771.3,304.5 769.8,303.3 768.3,302.2 766.6,301.3 764.9,300.5 763.1,299.9 761.0,299.4 759.0,299.1 756.8,298.9 754.0,298.9 751.8,299.1 749.8,299.4 748.0,299.8 746.2,300.4 744.4,301.2 742.8,302.1 741.0,303.3 739.6,304.5 738.1,305.9 735.6,308.9 733.5,312.5 732.5,314.6 730.9,318.9 729.8,323.5 729.4,326.1 729.0,331.7 728.9,335.1 729.0,338.5 729.4,344.1 730.3,349.0 731.0,351.4 732.5,355.7 734.5,359.5 735.7,361.3 736.9,363.0 738.3,364.5 741.0,366.9 742.6,368.0 744.4,369.0 746.2,369.8 748.0,370.4 749.9,370.8 751.8,371.1 754.0,371.3 756.7,371.3 759.1,371.1 761.1,370.8 763.1,370.3 764.9,369.7 768.1,368.1 769.7,367.0 771.3,365.7 774.1,362.9 776.4,359.6 777.4,357.7 779.2,353.6 780.6,349.0 781.5,344.0 781.9,338.5Z M765.4,337.6 765.1,342.7 764.7,345.5 764.2,347.9 763.1,351.0 762.2,352.7 761.2,354.1 760.0,355.1 758.7,355.9 757.8,356.2 756.2,356.4 754.7,356.4 753.0,356.1 751.6,355.6 750.3,354.7 749.2,353.4 748.2,351.9 747.0,349.1 746.4,346.7 746.0,344.1 745.6,341.1 745.5,337.6 745.5,332.6 745.6,329.0 746.0,326.1 746.4,323.5 747.0,321.1 747.8,319.2 749.1,316.8 750.3,315.6 751.5,314.7 752.9,314.1 753.9,313.9 756.1,313.8 757.9,314.1 759.3,314.6 760.1,315.1 761.2,316.1 762.2,317.5 763.1,319.2 763.9,321.1 764.7,324.8 765.1,327.5 765.4,330.7Z"/>
<path fill="#50708a" fill-rule="evenodd" d="M804.3,321.9 804.9,322.1 805.1,322.7 805.1,368.1 805.2,368.7 805.7,369.4 806.2,369.7 806.8,369.8 818.4,369.8 819.0,369.7 819.7,369.2 820.0,368.7 820.1,368.1 820.1,301.9 819.9,301.2 819.5,300.6 819.0,300.3 818.4,300.2 808.5,300.2 807.9,300.3 807.4,300.6 793.8,311.6 793.3,312.1 793.1,312.9 793.1,320.2 793.3,320.9 793.7,321.5 794.2,321.8 794.8,321.9Z"/>
<path fill="#50708a" fill-rule="evenodd" d="M837.5,300.2 836.9,300.3 836.4,300.6 836.0,301.2 835.8,301.9 835.8,312.0 836.0,312.7 836.4,313.3 836.8,313.5 837.5,313.7 861.3,313.7 861.9,314.0 862.1,314.3 862.0,314.9 836.0,367.1 835.8,367.8 835.9,368.7 836.2,369.2 836.8,369.6 837.4,369.8 850.3,369.8 850.8,369.7 851.3,369.4 851.7,368.8 882.8,303.2 883.0,301.8 882.8,301.2 882.4,300.6 881.9,300.3 881.3,300.2Z"/>
<path fill="#fff" fill-rule="evenodd" d="M69.9,480.9 69.0,481.1 68.4,481.6 68.0,482.2 67.9,482.9 67.9,521.9 68.1,522.8 68.5,523.4 69.0,523.8 69.9,524.0 90.7,524.0 92.4,524.2 94.6,524.9 96.1,525.6 97.5,526.5 99.1,528.1 100.1,529.4 100.8,530.8 101.4,532.3 101.8,534.5 101.8,536.1 101.5,537.6 101.1,539.1 100.5,540.6 99.6,541.9 98.6,543.1 97.4,544.2 96.1,545.1 94.7,545.8 93.1,546.3 90.8,546.7 89.8,546.7 87.3,546.3 84.8,545.7 82.4,544.8 80.0,543.6 77.0,541.5 76.3,541.2 75.6,541.2 74.9,541.4 74.4,541.7 66.1,549.4 65.7,549.9 65.5,550.6 65.6,551.5 66.0,552.2 68.7,555.0 70.2,556.3 73.4,558.5 77.1,560.5 80.8,561.8 82.8,562.3 87.0,563.0 91.0,563.1 93.0,563.0 97.2,562.3 99.2,561.8 102.9,560.4 106.6,558.5 109.8,556.3 111.3,555.0 114.1,552.1 116.2,549.0 117.1,547.4 118.0,545.5 119.1,542.1 119.8,538.2 119.9,536.3 119.7,532.7 118.9,528.9 118.3,527.1 116.7,523.8 114.6,520.4 112.1,517.6 110.5,516.2 109.0,514.9 105.7,512.8 102.0,511.0 98.2,509.8 96.2,509.4 92.0,508.8 84.9,508.8 84.2,508.5 83.9,507.8 83.9,496.6 84.2,495.9 84.9,495.6 109.1,495.6 110.0,495.4 110.6,494.9 110.9,494.4 111.1,493.6 111.1,482.9 110.9,482.0 110.6,481.6 110.0,481.1 109.1,480.9Z"/>
<path fill="#fff" fill-rule="evenodd" d="M644.2,480.9 643.3,481.1 642.7,481.6 642.3,482.2 642.2,482.9 642.2,521.9 642.4,522.8 642.7,523.3 643.3,523.8 644.2,524.0 665.0,524.0 666.7,524.2 668.9,524.9 670.4,525.6 671.8,526.5 673.4,528.1 674.4,529.4 675.1,530.8 675.7,532.3 676.1,534.5 676.1,536.1 675.8,537.6 675.4,539.1 674.8,540.6 673.9,541.9 672.9,543.1 671.7,544.2 670.4,545.1 669.0,545.8 667.4,546.3 665.1,546.7 664.1,546.7 661.6,546.3 659.1,545.7 656.7,544.8 654.3,543.6 651.3,541.5 650.6,541.2 649.9,541.2 649.2,541.4 648.7,541.7 640.4,549.4 640.0,549.9 639.8,550.6 639.9,551.5 640.3,552.2 643.0,555.0 644.5,556.3 647.7,558.5 651.4,560.5 655.1,561.8 657.1,562.3 661.3,563.0 665.3,563.1 667.3,563.0 671.5,562.3 673.5,561.8 677.2,560.4 680.9,558.5 684.1,556.3 685.6,555.0 688.4,552.1 690.5,549.0 691.4,547.4 692.3,545.5 693.4,542.1 694.1,538.2 694.2,536.3 694.0,532.7 693.2,528.9 692.6,527.1 691.0,523.8 688.9,520.4 686.4,517.6 684.8,516.2 683.3,514.9 680.0,512.8 676.3,511.0 672.5,509.8 670.5,509.4 666.3,508.8 659.2,508.8 658.5,508.5 658.2,507.8 658.2,496.6 658.5,495.9 659.2,495.6 683.4,495.6 684.3,495.4 684.9,494.9 685.2,494.4 685.4,493.6 685.4,482.9 685.2,482.0 684.9,481.6 684.3,481.1 683.4,480.9Z"/>
<path fill="#fff" fill-rule="evenodd" d="M65.4,447.5 65.7,447.6 65.8,447.9 65.8,466.6 66.1,466.9 66.6,467.1 71.6,467.1 71.9,466.8 72.1,466.3 72.1,447.7 72.5,447.5 77.4,447.5 77.9,447.3 78.2,446.7 78.2,442.6 77.9,442.3 77.4,442.1 60.8,442.1 60.2,442.4 60.0,442.9 60.0,446.7 60.3,447.3 60.8,447.5Z"/>
<path fill="#fff" fill-rule="evenodd" d="M106.0,454.0 105.7,451.9 104.9,449.4 103.5,447.1 101.7,445.1 99.6,443.5 97.7,442.6 95.1,441.9 92.4,441.7 89.7,442.1 87.2,443.0 85.4,444.0 83.3,445.8 81.7,447.9 80.5,450.3 80.0,452.3 79.8,455.0 80.2,457.6 81.0,460.1 82.1,461.9 83.8,463.9 85.9,465.5 88.4,466.7 90.4,467.3 93.1,467.5 95.8,467.2 98.3,466.3 100.7,465.0 102.2,463.6 103.9,461.6 105.1,459.2 105.8,456.6Z M100.0,454.9 99.8,456.0 99.4,457.3 98.7,458.5 97.7,459.5 96.5,460.4 95.5,460.8 94.1,461.2 92.6,461.3 91.2,461.1 89.8,460.6 88.8,460.1 87.7,459.2 86.8,458.1 86.2,456.8 85.9,455.8 85.8,454.4 86.0,453.1 86.5,451.8 87.0,450.8 88.0,449.8 89.1,448.9 90.4,448.3 91.5,448.0 93.0,447.9 94.4,448.1 95.8,448.5 97.1,449.2 98.0,449.9 98.9,451.0 99.5,452.2 99.9,453.6Z"/>
<path fill="#fff" fill-rule="evenodd" d="M116.7,457.9 116.8,457.6 117.1,457.5 121.3,457.5 122.9,457.2 124.4,456.5 126.1,455.1 126.7,454.5 127.5,453.2 128.1,451.7 128.3,450.2 128.3,449.4 127.8,447.2 127.1,445.7 125.6,444.0 124.4,443.1 122.9,442.4 120.6,442.1 110.9,442.1 110.6,442.4 110.4,442.9 110.4,466.3 110.5,466.7 110.8,467.0 115.9,467.1 116.3,467.0 116.6,466.7Z M116.7,447.9 116.8,447.6 117.1,447.5 120.6,447.5 121.7,447.8 122.3,448.3 122.7,448.9 122.9,449.9 122.7,450.7 122.0,451.6 121.0,452.1 116.9,452.1 116.7,451.7Z"/>
<path fill="#fff" fill-rule="evenodd" d="M639.7,447.5 640.0,447.6 640.1,447.9 640.1,466.6 640.4,466.9 640.9,467.1 645.9,467.1 646.2,466.8 646.4,466.3 646.4,447.7 646.8,447.5 651.7,447.5 652.2,447.3 652.5,446.7 652.5,442.6 652.2,442.3 651.7,442.1 635.1,442.1 634.5,442.4 634.3,442.9 634.3,446.7 634.6,447.3 635.1,447.5Z"/>
<path fill="#fff" fill-rule="evenodd" d="M680.3,454.0 680.0,451.9 679.2,449.4 677.8,447.1 676.0,445.1 673.9,443.5 672.0,442.6 669.4,441.9 666.7,441.7 664.0,442.1 661.5,443.0 659.7,444.0 657.6,445.8 656.0,447.9 654.8,450.3 654.3,452.3 654.1,455.0 654.5,457.6 655.3,460.1 656.4,461.9 658.1,463.9 660.2,465.5 662.7,466.7 664.7,467.3 667.4,467.5 670.1,467.2 672.6,466.3 675.0,465.0 676.5,463.6 678.2,461.6 679.4,459.2 680.1,456.6Z M674.3,454.9 674.1,456.0 673.7,457.3 673.0,458.5 672.0,459.5 670.8,460.4 669.8,460.8 668.4,461.2 666.9,461.3 665.5,461.1 664.1,460.6 663.1,460.1 662.0,459.2 661.1,458.1 660.5,456.8 660.2,455.8 660.1,454.4 660.3,453.1 660.8,451.8 661.3,450.8 662.3,449.8 663.4,448.9 664.7,448.3 665.8,448.0 667.3,447.9 668.7,448.1 670.1,448.5 671.4,449.2 672.3,449.9 673.2,451.0 673.8,452.2 674.2,453.6Z"/>
<path fill="#fff" fill-rule="evenodd" d="M691.0,457.9 691.1,457.6 691.4,457.5 695.6,457.5 697.2,457.2 698.7,456.5 700.4,455.1 701.5,453.8 702.1,452.5 702.4,451.7 702.6,450.2 702.6,449.4 702.1,447.2 701.4,445.7 699.9,444.0 698.7,443.1 697.2,442.4 694.9,442.1 685.2,442.1 684.9,442.4 684.7,442.9 684.7,466.3 684.8,466.7 685.1,467.0 690.2,467.1 690.6,467.0 690.9,466.7Z M691.0,447.9 691.1,447.6 691.4,447.5 694.9,447.5 696.0,447.8 696.6,448.2 697.0,448.9 697.2,449.9 697.0,450.7 696.3,451.6 695.3,452.1 691.2,452.1 691.0,451.7Z"/>
<path fill="#50708a" fill-rule="evenodd" d="M430.0,344.6 429.8,344.1 429.3,343.9 425.5,343.9 425.0,344.0 424.8,344.3 424.8,366.1 425.0,366.6 425.3,366.8 429.3,366.8 429.8,366.6 430.0,366.3Z"/>
<path fill="#50708a" fill-rule="evenodd" d="M436.2,366.1 436.4,366.6 436.9,366.8 440.7,366.8 441.0,366.7 441.3,366.4 441.4,353.5 441.5,353.2 441.7,353.1 442.0,353.3 450.3,366.6 450.8,366.8 456.4,366.8 456.9,366.6 457.1,366.1 457.1,344.6 456.9,344.0 456.4,343.9 452.6,343.9 452.1,344.0 451.9,344.3 451.9,357.2 451.8,357.4 451.6,357.5 451.3,357.4 443.0,344.0 442.5,343.9 436.9,343.9 436.4,344.1 436.2,344.6Z"/>
<path fill="#50708a" fill-rule="evenodd" d="M523.7,358.4 525.5,359.2 525.5,359.6 522.7,364.8 522.6,365.4 523.0,365.9 526.9,367.8 527.5,367.8 527.9,367.5 534.0,356.3 534.8,355.0 535.5,353.5 535.7,351.9 535.7,350.7 535.4,349.1 535.0,348.0 534.2,346.6 533.5,345.7 532.2,344.6 531.2,344.1 529.7,343.5 528.5,343.3 526.9,343.2 525.2,343.6 523.7,344.2 522.4,345.1 521.2,346.3 520.3,347.8 519.9,348.9 519.5,350.5 519.5,352.2 519.9,353.8 520.5,355.3 521.5,356.6 522.4,357.5Z M528.2,354.2 527.1,354.3 526.0,353.8 525.1,353.0 524.7,352.0 524.6,350.8 525.1,349.7 525.8,348.9 526.9,348.4 528.1,348.4 529.1,348.7 530.0,349.6 530.5,350.7 530.5,351.9 530.1,352.9 529.3,353.8Z"/>
<path fill="#50708a" fill-rule="evenodd" d="M468.9,346.4 468.7,346.9 468.9,347.3 470.9,349.4 471.4,349.4 472.6,348.5 473.8,348.1 475.1,348.1 476.3,348.6 477.1,349.2 477.7,350.0 477.9,350.8 478.1,351.8 477.9,353.0 477.4,353.9 468.2,365.1 468.0,365.5 468.0,366.1 468.2,366.6 468.7,366.8 482.1,366.8 482.6,366.6 482.8,366.1 482.8,363.3 482.6,362.8 482.1,362.6 477.1,362.6 476.9,362.5 476.7,362.2 476.8,362.0 481.7,355.8 482.7,353.8 483.0,352.2 483.0,350.1 482.6,348.4 481.8,346.9 480.5,345.3 479.1,344.3 477.6,343.7 475.5,343.3 473.8,343.4 471.8,344.1 470.3,344.9Z"/>
<path fill="#50708a" fill-rule="evenodd" d="M504.5,354.2 504.2,351.4 503.5,349.1 502.6,347.1 501.8,345.9 500.8,345.0 499.7,344.2 498.6,343.6 496.6,343.2 494.1,343.2 492.8,343.4 491.5,343.9 489.9,345.0 488.9,345.9 488.1,347.1 487.2,349.1 486.5,351.4 486.2,354.2 486.2,356.4 486.4,358.3 486.9,360.8 487.8,362.9 488.9,364.7 489.9,365.6 491.0,366.4 492.1,367.0 494.1,367.4 495.8,367.5 497.3,367.3 499.2,366.7 500.3,366.0 501.3,365.2 502.6,363.5 503.3,362.2 504.0,360.0 504.3,358.3 504.5,356.4Z M498.8,353.8 498.7,357.9 498.4,359.6 497.8,361.0 497.3,361.7 496.5,362.3 495.6,362.5 494.5,362.4 493.6,361.9 492.9,361.0 492.2,359.2 492.0,357.3 491.9,354.4 492.1,352.3 492.4,350.6 493.0,349.4 493.8,348.5 494.8,348.2 496.2,348.2 496.9,348.5 497.7,349.4 498.3,350.6 498.6,351.8Z"/>
<path fill="#50708a" fill-rule="evenodd" d="M510.3,351.0 510.6,351.1 510.7,351.3 510.7,366.3 510.9,366.6 511.4,366.8 515.4,366.8 515.7,366.6 515.9,366.1 515.9,344.6 515.7,344.0 515.2,343.9 511.6,343.9 506.6,347.8 506.5,348.1 506.5,350.3 506.7,350.8 507.2,351.0Z"/>
</svg>
<div style="position:absolute;left:650.4px;top:340.2px;width:0;height:0;transform:rotate(-90deg);transform-origin:0 0"><div class="t" style="font-size:36.80px;color:#e51555;transform:translate(99.50px,17.52px) scale(0.7109,0.7692);-webkit-text-stroke:1.56px #e51555;"><b>O</b></div><div class="t" style="font-size:37.12px;color:#e51555;transform:translate(121.90px,16.50px) scale(0.7754,0.7692);-webkit-text-stroke:1.56px #e51555;"><b>V</b></div><div class="t" style="font-size:37.12px;color:#e51555;transform:translate(144.26px,16.50px) scale(0.5936,0.7692);-webkit-text-stroke:1.56px #e51555;"><b>E</b></div><div class="t" style="font-size:37.12px;color:#e51555;transform:translate(159.98px,16.50px) scale(0.6781,0.7692);-webkit-text-stroke:1.56px #e51555;"><b>R</b></div></div>
<div class="t" style="font-size:42.01px;color:#fff;transform:translate(985.91px,56.52px) scale(0.8997,0.7692);-webkit-text-stroke:0.65px #fff;"><b>4</b></div>
<div class="t" style="font-size:44.49px;color:#fff;transform:translate(1005.77px,56.11px) scale(0.8421,0.7692);-webkit-text-stroke:0.65px #fff;"><b>0</b></div>
<svg width="60" height="50" viewBox="1010 50 60 50" style="position:absolute;left:1010px;top:50px"><polygon fill="#adabb0" points="1020.5,90.9 1040.4,54.3 1060.9,90.9 1040.4,90.9 1040.4,84.8 1050.1,84.8 1040.4,67.7 1028.2,90.9"/></svg>
</body></html>
